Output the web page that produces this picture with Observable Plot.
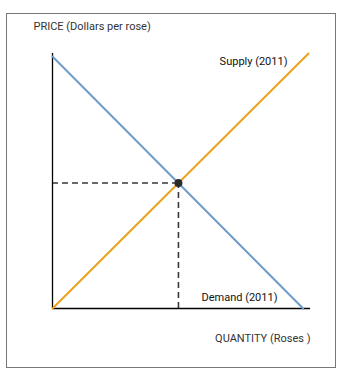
<!DOCTYPE html>
<html><head><meta charset="utf-8">
<script src="https://cdn.jsdelivr.net/npm/d3@7"></script>
<script src="https://cdn.jsdelivr.net/npm/@observablehq/plot@0.6"></script>
<style>
body{margin:0;background:#fff;}
#wrap{position:relative;width:344px;height:379px;}
#box{position:absolute;left:6px;top:13px;width:328px;height:353px;border:1px solid #777;box-sizing:content-box;}
#chart{position:absolute;left:0;top:0;}
</style></head>
<body><div id="wrap"><div id="box"></div><div id="chart"></div></div>
<script>
const supplyQ = [0, 10];
const supplyP = [0, 10];
const demandQ = [0, 9.79];
const demandP = [9.88, 0];
const eqQ = [4.92];
const eqP = [4.92];
const labels = {
  y: "PRICE (Dollars per rose)",
  x: "QUANTITY (Roses )",
  supply: "Supply (2011)",
  demand: "Demand (2011)"
};
const supply = supplyQ.map((q,i)=>({q, p: supplyP[i]}));
const demand = demandQ.map((q,i)=>({q, p: demandP[i]}));
const eq = eqQ.map((q,i)=>({q, p: eqP[i]}));
const font = "Roboto, sans-serif";
const chart = Plot.plot({
  width: 344, height: 379,
  marginLeft: 52, marginRight: 36, marginTop: 53, marginBottom: 71,
  x: {domain: [0, 10], axis: null},
  y: {domain: [0, 10], axis: null},
  style: {fontFamily: font, background: "transparent"},
  marks: [
    Plot.ruleY(eq, {y: "p", x1: 0, x2: "q", stroke: "#3a3a3a", strokeWidth: 1.6, strokeDasharray: "6,4"}),
    Plot.ruleX(eq, {x: "q", y1: 0, y2: "p", stroke: "#3a3a3a", strokeWidth: 1.6, strokeDasharray: "6,4"}),
    Plot.ruleX([0], {stroke: "#000", strokeWidth: 1.3}),
    Plot.ruleY([0], {stroke: "#000", strokeWidth: 1.3, x1: 0, x2: 10.08}),
    Plot.line(supply, {x: "q", y: "p", stroke: "#eba21c", strokeWidth: 2}),
    Plot.line(demand, {x: "q", y: "p", stroke: "#6f9ccb", strokeWidth: 2}),
    Plot.dot(eq, {x: "q", y: "p", r: 4, fill: "#2b2b2b", stroke: "none"}),
    Plot.text([labels.y], {frameAnchor: "top-left", dx: -19, dy: -27, textAnchor: "start", lineAnchor: "middle", fontSize: 11, fill: "#333"}),
    Plot.text([labels.supply], {frameAnchor: "top-right", dx: -21, dy: 8, textAnchor: "end", lineAnchor: "middle", fontSize: 11, fill: "#111"}),
    Plot.text([labels.demand], {frameAnchor: "bottom-right", dx: -31, dy: -11, textAnchor: "end", lineAnchor: "middle", fontSize: 11, fill: "#111"}),
    Plot.text([labels.x], {frameAnchor: "bottom-right", dx: 2, dy: 30, textAnchor: "end", lineAnchor: "middle", fontSize: 11, fill: "#333"})
  ]
});
document.getElementById("chart").appendChild(chart);
</script></body></html>
